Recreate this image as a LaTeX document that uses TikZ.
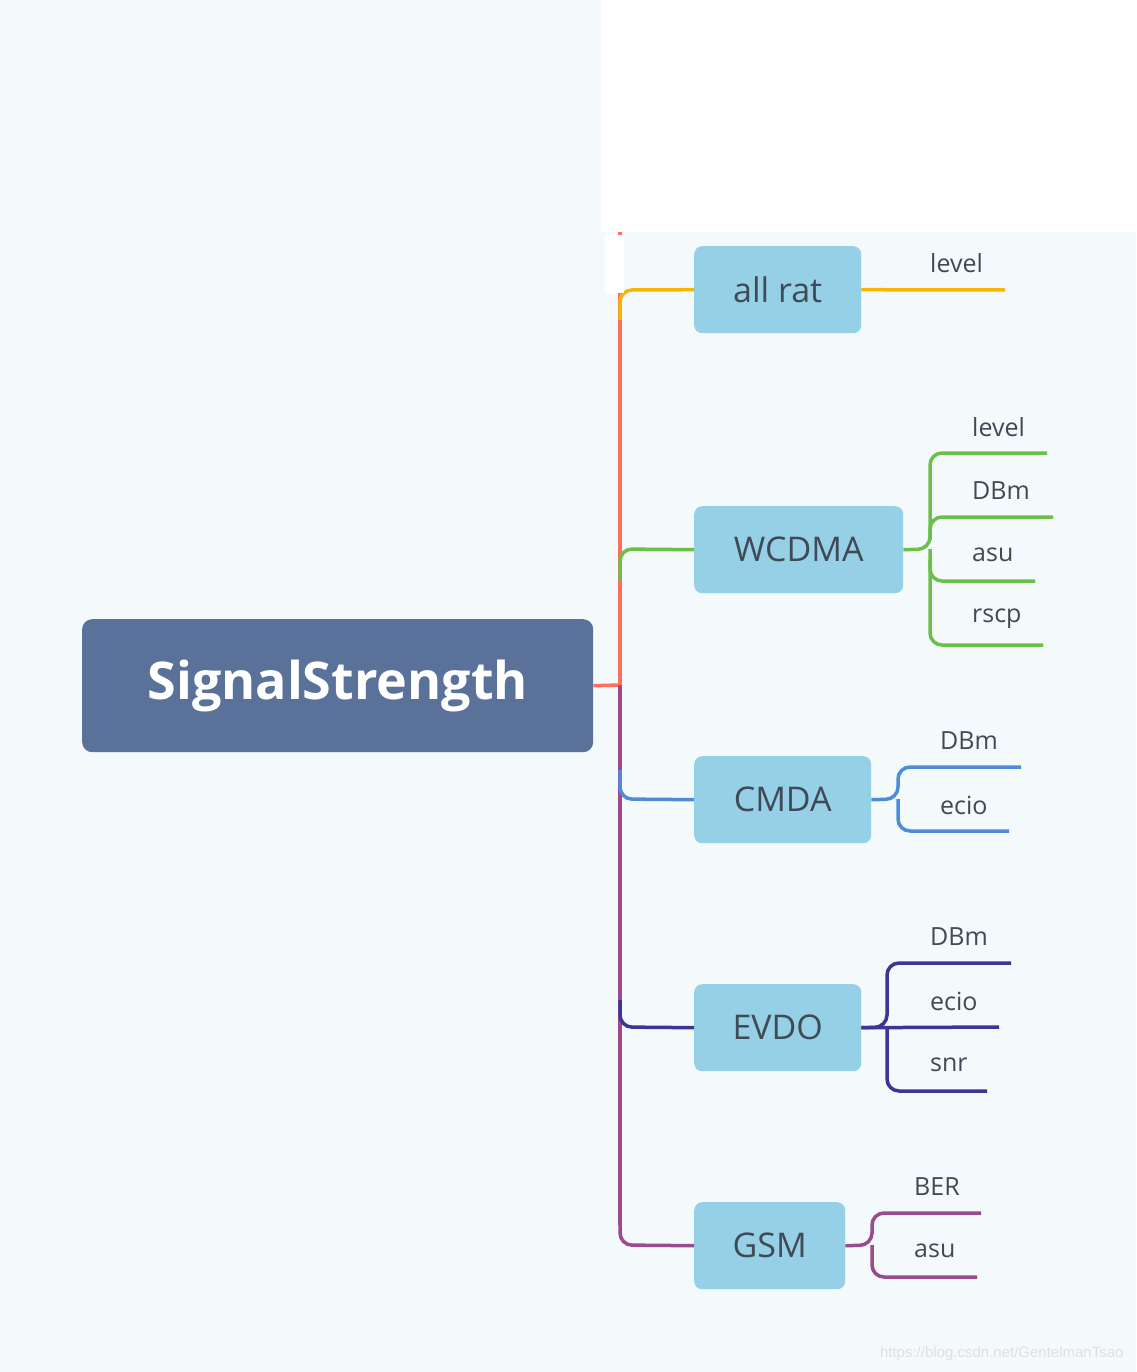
\documentclass[tikz,border=0pt]{standalone}
\usepackage{fontspec}
\setmainfont{Open Sans}
\newfontfamily\wmfont{Liberation Sans}
\definecolor{bg}{HTML}{F4F9FC}
\definecolor{rootc}{HTML}{5A7299}
\definecolor{boxc}{HTML}{96D0E6}
\definecolor{txt}{HTML}{3F4A56}
\definecolor{cred}{HTML}{FF6F5B}
\definecolor{corange}{HTML}{F7B500}
\definecolor{cgreen}{HTML}{6CC04A}
\definecolor{cblue}{HTML}{4A8EDB}
\definecolor{cindigo}{HTML}{3C3596}
\definecolor{cpurple}{HTML}{9B4A8E}
\begin{document}
\begin{tikzpicture}[x=1pt,y=-1pt,
  box/.style={fill=boxc,rounded corners=8pt,text=txt,font=\fontsize{34}{40}\selectfont,inner sep=0pt,anchor=north west},
  leaf/.style={text=txt,font=\fontsize{25}{30}\selectfont,anchor=west,inner sep=0pt},
  br/.style={line width=3.5pt,rounded corners=12pt},
  wm/.style={text=gray!25,font=\wmfont\fontsize{15}{18}\selectfont}]
\fill[bg] (0,0) rectangle (1136,1372);
\fill[white] (601,0) rectangle (1136,232);
\useasboundingbox (0,0) rectangle (1136,1372);
% root
\node[fill=rootc,rounded corners=10pt,minimum width=511pt,minimum height=133pt,anchor=north west,inner sep=0pt,text=white,font=\bfseries\fontsize{52}{60}\selectfont] (root) at (82,619) {\raisebox{0pt}{SignalStrength}};
% boxes
\node[box,minimum width=167pt,minimum height=87pt] (allrat) at (694,246) {all rat};
\node[box,minimum width=209pt,minimum height=87pt] (wcdma) at (694,506) {WCDMA};
\node[box,minimum width=177pt,minimum height=87pt] (cmda) at (694,756) {CMDA};
\node[box,minimum width=167pt,minimum height=87pt] (evdo) at (694,984) {EVDO};
\node[box,minimum width=151pt,minimum height=87pt] (gsm) at (694,1202) {GSM};
\coordinate (j) at (620,685);
% trunk
\draw[line width=3.5pt,cred] (root.east) -- (j);
\draw[line width=3.5pt,cred] (620,232) -- (j);
\draw[line width=3.5pt,cpurple] (j) -- (620,1225);
% branches
\draw[br,corange] (620,320) -- (620,290) -- (allrat.west);
\draw[br,cgreen] (620,580) -- (620,549) -- (wcdma.west);
\draw[br,cblue] (620,770) -- (620,799) -- (cmda.west);
\draw[br,cindigo] (620,1000) -- (620,1027) -- (evdo.west);
\draw[br,cpurple] (620,1215) -- (620,1245) -- (gsm.west);
\fill[white] (605,235) rectangle (624,293);
% all rat
\coordinate (a1) at (1005,290);
\draw[line width=3.5pt,corange] (allrat.east) -- (a1);
\node[leaf] (la1) at (930,263) {level};
% WCDMA
\coordinate (w1) at (1047,453); \coordinate (w2) at (1053,517);
\coordinate (w3) at (1035,581); \coordinate (w4) at (1043,645);
\draw[br,cgreen] (wcdma.east) -- (930,549) -- (930,453) -- (w1);
\draw[br,cgreen] (930,540) -- (930,517) -- (w2);
\draw[br,cgreen] (930,560) -- (930,581) -- (w3);
\draw[br,cgreen] (930,549) -- (930,645) -- (w4);
\node[leaf] (lw1) at (972,427) {level};
\node[leaf] (lw2) at (972,491) {DBm};
\node[leaf] (lw3) at (972,555) {asu};
\node[leaf] (lw4) at (972,619) {rscp};
% CMDA
\coordinate (c1) at (1021,767); \coordinate (c2) at (1009,831);
\draw[br,cblue] (cmda.east) -- (898,799) -- (898,767) -- (c1);
\draw[br,cblue] (898,799) -- (898,831) -- (c2);
\node[leaf] (lc1) at (940,741) {DBm};
\node[leaf] (lc2) at (940,805) {ecio};
% EVDO
\coordinate (e1) at (1011,963); \coordinate (e2) at (999,1027); \coordinate (e3) at (987,1091);
\draw[br,cindigo] (evdo.east) -- (887,1027) -- (887,963) -- (e1);
\draw[br,cindigo] (evdo.east) -- (e2);
\draw[br,cindigo] (887,1027) -- (887,1091) -- (e3);
\node[leaf] (le1) at (930,937) {DBm};
\node[leaf] (le2) at (930,1001) {ecio};
\node[leaf] (le3) at (930,1065) {snr};
% GSM
\coordinate (g1) at (981,1213); \coordinate (g2) at (977,1277);
\draw[br,cpurple] (gsm.east) -- (872,1245) -- (872,1213) -- (g1);
\draw[br,cpurple] (872,1245) -- (872,1277) -- (g2);
\node[leaf] (lg1) at (914,1187) {BER};
\node[leaf] (lg2) at (914,1251) {asu};
\node[wm,anchor=east] (wmk) at (1127,1354) {https://blog.csdn.net/GentelmanTsao};
\end{tikzpicture}
\end{document}
